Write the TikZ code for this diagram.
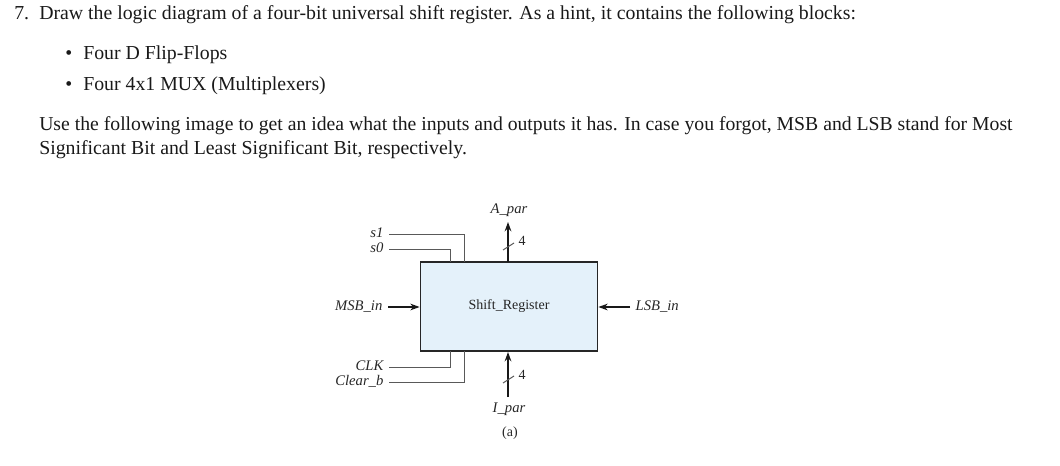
\documentclass[tikz,border=0pt]{standalone}
\usepackage{fontspec}
\setmainfont{Liberation Serif}
\usetikzlibrary{arrows.meta}

\definecolor{regblue}{HTML}{E4F1FA}

\tikzset{
	para/.style={anchor=base west, inner sep=0pt, font=\fontsize{14.85}{18}\selectfont, text=black!90},
	sig/.style={anchor=east, inner sep=0pt, inner xsep=4pt, text height=7pt, text depth=2pt, font=\fontsize{11}{12}\itshape, text=black!85},
	small/.style={inner sep=0pt, font=\fontsize{10.5}{12}\selectfont, text=black!85},
	wire/.style={draw=black!65, line width=0.75pt},
	bus/.style={draw=black!90, line width=1.3pt, -{Stealth[length=7pt,width=5pt]}}
}

\begin{document}
\begin{tikzpicture}[x=0.75pt, y=-0.75pt]
	\useasboundingbox (0,0) rectangle (1060,465);

	\node[para] (num) at (14, 19) {7.};
	\node[para] (q7) at (39, 19) {Draw the logic diagram of a four-bit universal shift register. As a hint, it contains the following blocks:};
	\node[para] (b1) at (65, 59) {\textbullet};
	\node[para] (t1) at (83, 59) {Four D Flip-Flops};
	\node[para] (b2) at (65, 90) {\textbullet};
	\node[para] (t2) at (83, 90) {Four 4x1 MUX (Multiplexers)};
	\node[para, font=\fontsize{14.78}{18}\selectfont] (u1) at (39, 130) {Use the following image to get an idea what the inputs and outputs it has. In case you forgot, MSB and LSB stand for Most};
	\node[para] (u2) at (39, 154) {Significant Bit and Least Significant Bit, respectively.};

	\node[draw=black!85, fill=regblue, line width=1.3pt, minimum width=132.75pt, minimum height=66.75pt, inner sep=0pt, font=\fontsize{10.5}{12}\selectfont, text=black!85] (reg) at (509, 306.5) {\raisebox{-1.5pt}{Shift\_Register}};

	\node[sig] (s1) at (389, 234) {s1};
	\node[sig] (s0) at (389, 249) {s0};
	\node[sig] (msb) at (388, 307) {MSB\_in};
	\node[sig] (clk) at (389, 367) {CLK};
	\node[sig] (clr) at (389, 382) {Clear\_b};
	\node[sig, anchor=west] (lsb) at (630, 307) {LSB\_in};
	\node[sig, anchor=center] (apar) at (509, 210) {A\_par};
	\node[sig, anchor=center] (ipar) at (509, 409) {I\_par};

	\node[small] (w1) at (522, 241) {4};
	\node[small] (w2) at (522, 375) {4};
	\node[small] (fig) at (510, 433) {(a)};

	\coordinate (s1in) at (464, 262);
	\coordinate (s0in) at (450, 262);
	\coordinate (clkin) at (450, 351);
	\coordinate (clrin) at (464, 351);
	\coordinate (aout) at (508, 262);
	\coordinate (atip) at (508, 222);
	\coordinate (itail) at (508, 397);
	\coordinate (itip) at (508, 352);
	\coordinate (a1) at (503, 250);
	\coordinate (a2) at (514, 243);
	\coordinate (i1) at (503, 383);
	\coordinate (i2) at (514, 376);

	\draw[wire] (s1.east) -| (s1in);
	\draw[wire] (s0.east) -| (s0in);
	\draw[wire] (clk.east) -| (clkin);
	\draw[wire] (clr.east) -| (clrin);

	\draw [bus] (msb.east) -- (msb.east -| reg.west);
	\draw [bus] (lsb.west) -- (lsb.west -| reg.east);
	\draw [bus] (aout) -- (atip);
	\draw [bus] (itail) -- (itip);

	\draw[wire] (a1) -- (a2);
	\draw[wire] (i1) -- (i2);
\end{tikzpicture}
\end{document}
